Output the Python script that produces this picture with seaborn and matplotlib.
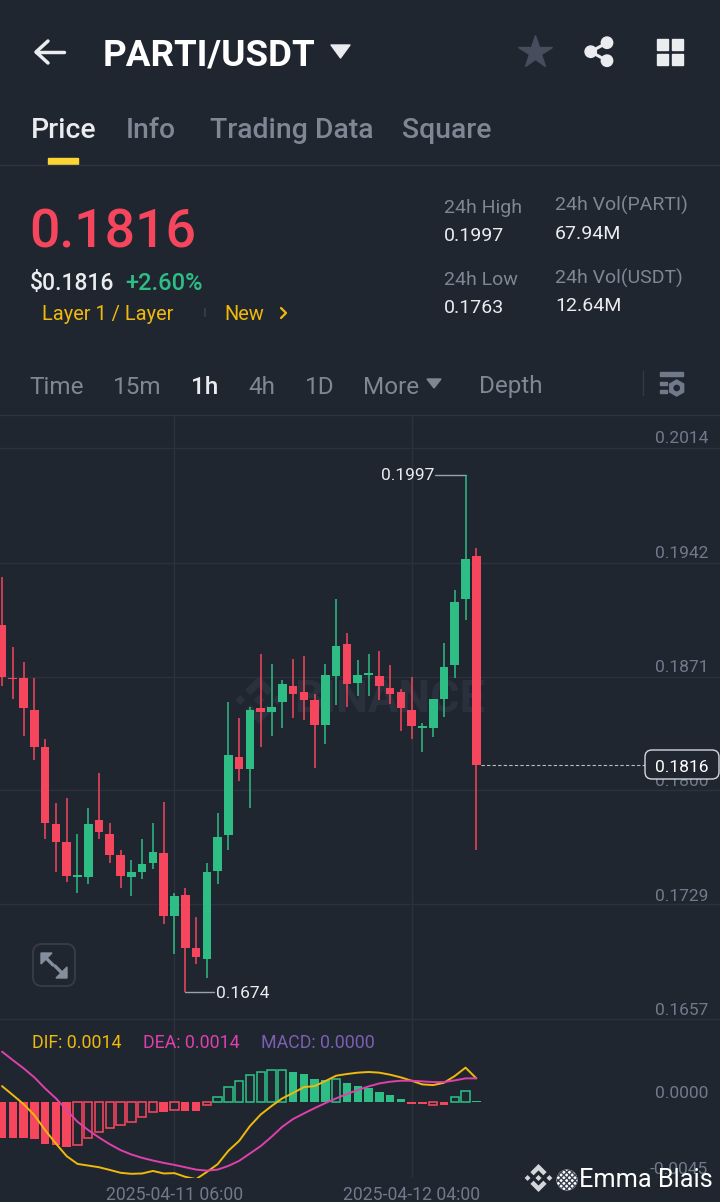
import numpy as np
import pandas as pd
import matplotlib
matplotlib.use('Agg')
import matplotlib.pyplot as plt
import seaborn as sns
from matplotlib.patches import FancyBboxPatch, Polygon, Rectangle, Circle, RegularPolygon

# candles, hourly
opens = [0.19034, 0.18702, 0.18702, 0.18502, 0.18271, 0.17788, 0.17677, 0.17459, 0.17459, 0.17817,
         0.17727, 0.17598, 0.17459, 0.17488, 0.17548, 0.17607, 0.17217, 0.17346, 0.17017, 0.16946,
         0.17498, 0.17719, 0.18211, 0.18132, 0.18513, 0.18492, 0.18552, 0.18652, 0.18613, 0.18563,
         0.18411, 0.18713, 0.18913, 0.18673, 0.18723, 0.18713, 0.18642, 0.18613, 0.18502, 0.18392,
         0.18392, 0.18571, 0.18784, 0.19196, 0.19465]
highs = [0.19336, 0.18894, 0.18802, 0.18702, 0.18321, 0.17919, 0.17951, 0.17727, 0.17888, 0.18111,
         0.17798, 0.17627, 0.17567, 0.17698, 0.17798, 0.17927, 0.17357, 0.17388, 0.17207, 0.17546,
         0.17859, 0.18551, 0.18451, 0.18523, 0.18852, 0.18792, 0.18692, 0.18821, 0.18842, 0.18602,
         0.18792, 0.19194, 0.18984, 0.18813, 0.18852, 0.18873, 0.18782, 0.18632, 0.18711, 0.18421,
         0.18571, 0.18923, 0.19254, 0.19970, 0.19515]
lows = [0.18652, 0.18571, 0.18342, 0.18190, 0.17698, 0.17486, 0.17427, 0.17357, 0.17417, 0.17698,
        0.17548, 0.17388, 0.17336, 0.17446, 0.17509, 0.17167, 0.16976, 0.16740, 0.16915, 0.16826,
        0.17417, 0.17629, 0.18061, 0.17888, 0.18271, 0.18342, 0.18392, 0.18452, 0.18442, 0.18142,
        0.18292, 0.18532, 0.18521, 0.18592, 0.18592, 0.18563, 0.18542, 0.18371, 0.18321, 0.18240,
        0.18332, 0.18461, 0.18702, 0.19065, 0.17627]
closes = [0.18707, 0.18693, 0.18513, 0.18271, 0.17798, 0.17677, 0.17467, 0.17471, 0.17788, 0.17738,
          0.17598, 0.17467, 0.17488, 0.17538, 0.17617, 0.17217, 0.17336, 0.17017, 0.16957, 0.17488,
          0.17709, 0.18221, 0.18132, 0.18502, 0.18492, 0.18521, 0.18663, 0.18602, 0.18563, 0.18411,
          0.18723, 0.18902, 0.18663, 0.18723, 0.18734, 0.18652, 0.18602, 0.18513, 0.18402, 0.18404,
          0.18571, 0.18771, 0.19176, 0.19446, 0.18160]

# macd panel, units of 0.0001
dif = [9.7, 4.4, -1.0, -7.6, -16.5, -24.5, -32.0, -36.6, -37.6, -38.6,
       -40.2, -41.9, -42.5, -42.3, -40.8, -42.3, -42.1, -44.3, -45.7, -41.4,
       -36.8, -28.8, -22.9, -14.1, -7.2, -2.2, 2.4, 5.6, 9.1, 9.7,
       12.7, 15.9, 16.9, 17.7, 18.1, 17.7, 16.5, 14.9, 12.9, 10.7,
       10.3, 11.7, 15.7, 20.7, 14.3]
dea = [30.2, 25.2, 20.3, 14.9, 8.3, 2.4, -4.6, -11.5, -16.5, -20.9,
       -24.9, -28.4, -31.0, -33.0, -34.6, -36.0, -37.2, -38.6, -40.0, -40.6,
       -40.0, -37.8, -34.8, -30.4, -26.0, -20.5, -14.5, -9.9, -6.6, -3.4,
       -0.4, 2.4, 5.0, 7.4, 9.5, 11.3, 12.3, 12.9, 12.9, 12.5,
       12.1, 12.1, 13.1, 14.3, 14.3]
macd = [-20.9, -20.9, -21.3, -22.0, -24.6, -25.4, -26.4, -25.6, -21.3, -17.9,
        -15.5, -13.7, -11.7, -8.9, -6.0, -6.0, -4.6, -5.2, -5.4, -1.8,
        3.2, 9.1, 12.5, 16.3, 18.3, 19.1, 19.5, 18.3, 16.7, 13.9,
        13.3, 13.7, 11.3, 9.7, 8.3, 6.2, 4.4, 2.2, -0.8, -1.2,
        -1.8, -1.8, 3.2, 6.8, 0.8]
macd_hollow = [0, 0, 0, 0, 0, 0, 0, 1, 1, 1,
               1, 1, 1, 1, 1, 0, 1, 0, 0, 1,
               1, 1, 1, 1, 1, 1, 1, 0, 0, 0,
               0, 1, 0, 0, 0, 0, 0, 0, 0, 0,
               1, 0, 1, 1, 0]

price_ticks = [0.2014, 0.1942, 0.1871, 0.1800, 0.1729, 0.1657]
date_idx = [16, 38]
date_labels = ['2025-04-11 06:00', '2025-04-12 04:00']

BG = '#1f2630'
GRID = '#2c323d'
RED = '#f6465d'
GREEN = '#2ebd85'
GRAY = '#7f8794'
AXIS_TXT = '#707a8a'
YELLOW = '#f0b90b'
WMARK = '#2b313c'

sns.set_style('dark')
plt.rcParams['font.family'] = ['Roboto', 'DejaVu Sans']

W, H = 720, 1202
fig = plt.figure(figsize=(W / 100, H / 100), dpi=100, facecolor=BG)


def px_axes(top, bottom):
    return fig.add_axes([0, 1 - bottom / H, 1, (bottom - top) / H])


# chrome layer, in pixels
chrome = fig.add_axes([0, 0, 1, 1], zorder=5)
chrome.set_xlim(0, W)
chrome.set_ylim(H, 0)
chrome.axis('off')
chrome.patch.set_alpha(0)

ax = px_axes(415, 1019)
ax2 = px_axes(1019, 1178)
xlim = (-2 / 10.78, 718 / 10.78)

df = pd.DataFrame({'i': range(len(opens)), 'o': opens, 'h': highs, 'l': lows, 'c': closes,
                   'dif': dif, 'dea': dea, 'macd': macd, 'hollow': macd_hollow})
df[['dif', 'dea', 'macd']] *= 1e-4
df['color'] = np.where(df['c'] >= df['o'], GREEN, RED)
df['macd_color'] = np.where(df['macd'] >= 0, GREEN, RED)

for a in (ax, ax2):
    a.set_facecolor(BG)
    a.set_xlim(*xlim)
    a.set_xticks(date_idx)
    a.set_xticklabels([])
    a.tick_params(length=0)
    a.set_yticklabels([])
    for s in a.spines.values():
        s.set_visible(False)
    a.grid(True, color=GRID, lw=1)
    a.set_axisbelow(True)


def binance_logo(target, cx, cy, r, color, z):
    """four chevrons and a centre diamond, r is the outer radius in pixels"""
    shapes = [[(0, -1), (0.58, -0.42), (0.35, -0.19), (0, -0.54), (-0.35, -0.19), (-0.58, -0.42)],
              [(0, 1), (0.58, 0.42), (0.35, 0.19), (0, 0.54), (-0.35, 0.19), (-0.58, 0.42)],
              [(0, -0.22), (0.22, 0), (0, 0.22), (-0.22, 0)],
              [(-0.78, -0.21), (-0.57, 0), (-0.78, 0.21), (-0.99, 0)],
              [(0.78, -0.21), (0.99, 0), (0.78, 0.21), (0.57, 0)]]
    for pts in shapes:
        target.add_patch(Polygon([(cx + x * r, cy + y * r) for x, y in pts], color=color, lw=0,
                                 transform=chrome.transData, zorder=z))


# price panel
ax.set_ylim(0.2294 - 1019 / 16000, 0.2294 - 415 / 16000)
ax.set_yticks(price_ticks)
ax.text(36, 0.18565, 'BINANCE', color=WMARK, fontsize=32.5, fontweight='bold',
        ha='center', va='center', zorder=1)
binance_logo(ax, 259, 700, 24, WMARK, 1)

ax.vlines(df['i'], df['l'], df['h'], colors=df['color'], lw=1.1, zorder=3)
body = (df['o'] - df['c']).abs().clip(lower=0.00012)
ax.bar(df['i'], body, bottom=df[['o', 'c']].min(axis=1), width=0.8, color=df['color'], lw=0, zorder=3)

ax.plot([40.2, 43], [0.1997, 0.1997], color='#9aa1ac', lw=1, zorder=2)
ax.plot([17, 19.7], [0.1674, 0.1674], color='#9aa1ac', lw=1, zorder=2)
ax.axhline(0.1816, xmin=481 / W, xmax=645 / W, color='#b7bdc6', lw=0.8, dashes=(3, 2), zorder=2)

# macd panel
macd_top = (1102.3 - 1019) / 16780
ax2.set_ylim(-0.0045, macd_top)
ax2.set_yticks([-0.0045, macd_top])
fill = [BG if h else c for h, c in zip(df['hollow'], df['macd_color'])]
line_w = [1.15 if h else 0 for h in df['hollow']]
ax2.bar(df['i'], df['macd'], width=0.78, color=fill, edgecolor=df['macd_color'], linewidth=line_w, zorder=2)
sns.lineplot(data=df, x='i', y='dif', ax=ax2, color='#f0b90b', lw=1.4, zorder=3)
sns.lineplot(data=df, x='i', y='dea', ax=ax2, color='#e040ac', lw=1.4, zorder=4)
ax2.set_xlabel('')
ax2.set_ylabel('')


def label(x, y, s, color='white', size=12, weight='normal', ha='left', z=6):
    chrome.text(x, y + 2, s, color=color, fontsize=size, fontweight=weight, ha=ha, va='center', zorder=z)


# axis labels
for p, y in zip(price_ticks, [436.5, 551.5, 666, 780, 894.5, 1008.5]):
    label(708, y, f'{p:.4f}', AXIS_TXT, 12.5, ha='right', z=3)
label(708, 1091, '0.0000', AXIS_TXT, 12.5, ha='right')
label(708, 1167, '-0.0045', AXIS_TXT, 12.5, ha='right')
for i, s in zip(date_idx, date_labels):
    label(2 + 10.78 * i, 1193, s, AXIS_TXT, 12.7, ha='center')

label(434, 473, '0.1997', '#eaecef', 12.5, ha='right')
label(216, 992, '0.1674', '#eaecef', 12.5)

chrome.add_patch(FancyBboxPatch((645, 750), 74, 29, boxstyle='round,pad=0,rounding_size=7',
                                fc=BG, ec='#d5d8dc', lw=1, zorder=4))
label(682, 766, '0.1816', 'white', 12.5, ha='center')

chrome.add_patch(FancyBboxPatch((33, 944), 42, 42, boxstyle='round,pad=0,rounding_size=9',
                                fc=BG, ec='#343a46', lw=1.5, zorder=4))
chrome.add_patch(Polygon([(41, 953), (52, 953), (41, 964)], color='#848e9c', zorder=6))
chrome.add_patch(Polygon([(67, 978), (56, 978), (67, 967)], color='#848e9c', zorder=6))
chrome.plot([44, 53], [956, 965], color='#848e9c', lw=2.4, zorder=6)
chrome.plot([64, 55], [975, 966], color='#848e9c', lw=2.4, zorder=6)

label(32, 1041, 'DIF: 0.0014', YELLOW, 12.8)
label(143, 1041, 'DEA: 0.0014', '#e040ac', 12.8)
label(261, 1041, 'MACD: 0.0000', '#7d5fb2', 12.8)

# header
chrome.plot([36, 64], [52, 52], color='#eaecef', lw=2.5)
chrome.plot([48, 36, 48], [41, 52, 63], color='#eaecef', lw=2.5)
label(103, 54, 'PARTI/USDT', 'white', 26.5, 'bold')
chrome.add_patch(Polygon([(331, 45), (350, 45), (340.5, 58)], color='#eaecef', joinstyle='round'))
chrome.plot([535], [52], marker='*', ms=25, color='#474d5c', mec='#474d5c')
for cx, cy in [(607, 42.7), (590.7, 51.7), (607, 60.7)]:
    chrome.add_patch(Circle((cx, cy), 5.7, color='#eaecef'))
chrome.plot([607, 590.7, 607], [42.7, 51.7, 60.7], color='#eaecef', lw=2.2)
for x0 in (656.7, 671.7):
    for y0 in (38.5, 53.5):
        chrome.add_patch(Rectangle((x0, y0), 11.5, 11.5, color='#eaecef'))

label(31, 128, 'Price', '#eaecef', 20.4, 'medium')
label(126, 128, 'Info', GRAY, 20.4, 'medium')
label(210, 128, 'Trading Data', GRAY, 20.4, 'medium')
label(402, 128, 'Square', GRAY, 20.4, 'medium')
chrome.add_patch(Rectangle((48, 158), 30, 6, color='#fcd535'))
chrome.plot([0, W], [164.5, 164.5], color='#2e3440', lw=1)

label(29, 231, '0.1816', RED, 38.6, 'medium')
label(30, 282, '$0.1816', '#eaecef', 16.5, 'medium')
label(125, 282, '+2.60%', GREEN, 17, 'medium')
label(42, 313, 'Layer 1 / Layer', YELLOW, 14.4)
label(224, 313, 'New', YELLOW, 14.4)
chrome.plot([281, 286, 281], [308, 313, 318], color=YELLOW, lw=1.6)
chrome.plot([204.5, 204.5], [309, 316], color='#343a46', lw=1.5)

label(444, 206, '24h High', GRAY, 14)
label(444, 234, '0.1997', '#eaecef', 14)
label(444, 278, '24h Low', GRAY, 14)
label(444, 306, '0.1763', '#eaecef', 14)
label(555, 203, '24h Vol(PARTI)', GRAY, 14)
label(555, 232, '67.94M', '#eaecef', 14)
label(555, 276, '24h Vol(USDT)', GRAY, 14)
label(555, 304, '12.64M', '#eaecef', 14)

for x, s in [(29, 'Time'), (113, '15m'), (248, '4h'), (305, '1D'), (363, 'More'), (479, 'Depth')]:
    label(x, 385, s, GRAY, 17.5)
label(191, 385, '1h', '#eaecef', 17.5, 'medium')
chrome.add_patch(Polygon([(427, 379), (441, 379), (434, 388)], color=GRAY))
chrome.plot([642.5, 642.5], [371, 395], color='#343a46', lw=1)
chrome.add_patch(Rectangle((660, 372), 23, 4, color=AXIS_TXT))
chrome.add_patch(Rectangle((660, 382), 7, 3, color=AXIS_TXT))
chrome.add_patch(Rectangle((660, 390), 7, 3, color=AXIS_TXT))
chrome.add_patch(RegularPolygon((676.7, 388), 6, radius=8, color=AXIS_TXT))
chrome.add_patch(Circle((676.7, 388), 2.6, color=BG))
chrome.plot([0, W], [414.5, 414.5], color='#2e3440', lw=1)

# watermark
binance_logo(chrome, 538.5, 1178, 14, '#d4d6da', 7)
chrome.add_patch(Circle((567, 1180), 10.5, fc='white', ec='#3a4150', hatch='xxxxxx', lw=0, zorder=7))
label(579, 1178, 'Emma Blais', 'white', 18.2, z=7)

fig.savefig('out.png', dpi=100, facecolor=BG)
